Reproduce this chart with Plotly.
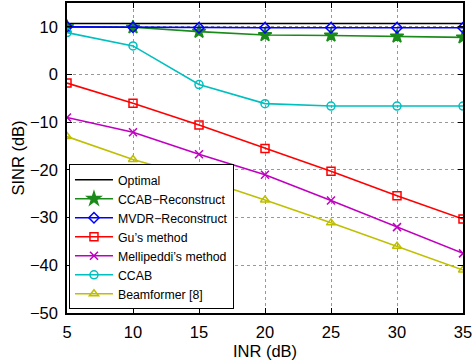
import plotly.graph_objects as go

inr = [5, 10, 15, 20, 25, 30, 35]
optimal = [10.7, 10.7, 10.7, 10.7, 10.7, 10.7, 10.7]
ccab_recon = [10.0, 9.9, 9.0, 8.3, 8.2, 8.0, 7.8]
mvdr_recon = [10.0, 9.9, 9.8, 9.8, 9.8, 9.8, 9.8]
gu = [-1.8, -6.0, -10.6, -15.5, -20.3, -25.4, -30.3]
mellipeddi = [-9.0, -12.1, -16.7, -21.0, -26.4, -32.0, -37.5]
ccab = [8.8, 6.0, -2.1, -6.1, -6.6, -6.6, -6.6]
beamformer8 = [-13.0, -17.8, -21.7, -26.3, -31.1, -36.0, -41.0]

x_ticks = [5, 10, 15, 20, 25, 30, 35]
y_ticks = [10, 0, -10, -20, -30, -40, -50]

series = [
    ("Optimal", optimal, "#000000", None, False),
    ("CCAB\u2212Reconstruct", ccab_recon, "#1a8a1a", "star", True),
    ("MVDR\u2212Reconstruct", mvdr_recon, "#0000ff", "diamond-open", False),
    ("Gu\u2019s method", gu, "#ff0000", "square-open", False),
    ("Mellipeddi\u2019s method", mellipeddi, "#c000c0", "x-thin-open", False),
    ("CCAB", ccab, "#00bfbf", "circle-open", False),
    ("Beamformer [8]", beamformer8, "#bfbf00", "triangle-up-open", False),
]

fig = go.Figure()
for name, vals, color, sym, filled in series:
    if sym is None:
        fig.add_trace(go.Scatter(x=inr, y=vals, mode="lines", name=name,
                                 line=dict(color=color, width=1.6)))
    else:
        fig.add_trace(go.Scatter(
            x=inr, y=vals, mode="lines+markers", name=name,
            line=dict(color=color, width=1.6),
            marker=dict(symbol=sym, size=10 if filled else 8, color=color,
                        line=dict(color=color, width=1.5))))

axis_common = dict(
    showline=True, linecolor="black", linewidth=1.5, mirror="ticks",
    ticks="inside", ticklen=5, tickcolor="black", tickwidth=1,
    showgrid=True, gridcolor="#999999", griddash="dot", gridwidth=1,
    zeroline=False, tickfont=dict(size=16.5, color="black"),
)

fig.update_layout(
    width=474, height=364,
    margin=dict(l=67, r=11, t=1, b=51),
    plot_bgcolor="white", paper_bgcolor="white",
    font=dict(family="Liberation Sans, Arial, sans-serif", color="black"),
    xaxis=dict(range=[5, 35], tickvals=x_ticks, ticklabelstandoff=3,
               title=dict(text="INR (dB)", font=dict(size=16.5), standoff=6),
               **axis_common),
    yaxis=dict(range=[-50, 15], tickvals=y_ticks, ticklabelstandoff=4,
               title=dict(text="SINR (dB)", font=dict(size=16.5), standoff=1),
               **axis_common),
    legend=dict(x=0.005, y=0.012, xanchor="left", yanchor="bottom",
                bgcolor="white", bordercolor="black", borderwidth=1,
                font=dict(size=12.3), tracegroupgap=0,
                itemwidth=38),
    showlegend=True,
)

fig.write_html("out.html", config={"displayModeBar": False},
               post_script="document.body.style.margin='0';document.body.style.padding='0';")
